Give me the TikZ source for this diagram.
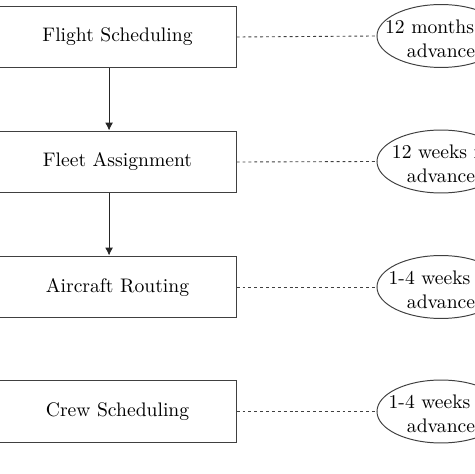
\documentclass[tikz,border=0pt]{standalone}
\usetikzlibrary{shapes.geometric,arrows.meta}
\begin{document}
\begin{tikzpicture}[x=0.51pt,y=-0.51pt,
  stage/.style={draw=black!75,line width=0.5pt,minimum width=121pt,minimum height=31.6pt,inner sep=0pt,font=\fontsize{10}{12}\selectfont},
  timing/.style={draw=black!75,line width=0.5pt,ellipse,minimum width=65.3pt,minimum height=32.1pt,inner sep=0pt},
  timetext/.style={align=center,inner sep=0pt,font=\fontsize{10}{12.3}\selectfont},
  flow/.style={draw=black!85,line width=0.5pt,-{Latex[length=4pt,width=4pt]}},
  link/.style={draw=black!75,line width=0.45pt,dash pattern=on 1.5pt off 1.5pt}]
\useasboundingbox (0,0) rectangle (474,474);
\node[stage] (fs) at (117.5,37) {Flight Scheduling};
\node[stage] (fa) at (117.5,162) {Fleet Assignment};
\node[stage] (ar) at (117.5,287) {Aircraft Routing};
\node[stage] (cs) at (117.5,411.5) {Crew Scheduling};
\node[timing] (e1) at (441,36) {};
\node[timing] (e2) at (441,161.5) {};
\node[timing] (e3) at (441,287) {};
\node[timing] (e4) at (441,411.5) {};
\node[timetext] (t1) at ([yshift=-1.3pt]e1.center) {12 months in\\advance};
\node[timetext] (t2) at ([yshift=-1.3pt]e2.center) {12 weeks in\\advance};
\node[timetext] (t3) at ([yshift=-1.3pt]e3.center) {1-4 weeks in\\advance};
\node[timetext] (t4) at ([yshift=-1.3pt]e4.center) {1-4 weeks in\\advance};
\draw[flow] ([xshift=-4.3pt]fs.south) -- ([xshift=-4.3pt]fa.north);
\draw[flow] ([xshift=-4.3pt]fa.south) -- ([xshift=-4.3pt]ar.north);
\draw[link] (fs.east) -- (e1.west);
\draw[link] (fa.east) -- (e2.west);
\draw[link] (ar.east) -- (e3.west);
\draw[link] (cs.east) -- (e4.west);
\end{tikzpicture}
\end{document}
